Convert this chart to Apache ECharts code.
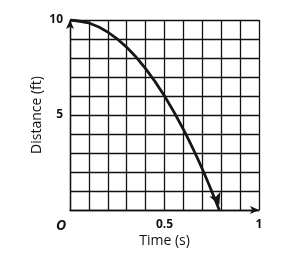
<!DOCTYPE html>
<html>
<head>
  <meta charset="utf-8">
  <title>Distance vs Time</title>
  <script src="https://cdn.jsdelivr.net/npm/echarts@6/dist/echarts.min.js"></script>
  <style>
    html, body { margin: 0; padding: 0; background: #fff; }
    #chart { width: 284px; height: 257px; }
  </style>
</head>
<body>
  <div id="chart"></div>
  <script>
    // values
    var timeS = [0, 0.1, 0.2, 0.3, 0.4, 0.5, 0.6, 0.7, 0.79];
    var distanceFt = [10, 9.84, 9.36, 8.56, 7.44, 6.0, 4.24, 2.16, 0];
    var xTickLabels = { '0.5': '0.5', '1': '1' };
    var yTickLabels = { '5': '5', '10': '10' };

    var font = '"Open Sans", "DejaVu Sans", sans-serif';
    var ink = '#111';

    var points = timeS.map(function (t, i) {
      var p = { value: [t, distanceFt[i]], symbol: 'none' };
      if (i === timeS.length - 1) {
        p.symbol = 'arrow';
        p.symbolSize = [9, 12];
        p.symbolRotate = 202;
        p.symbolOffset = [0, '-40%'];
      }
      return p;
    });

    var chart = echarts.init(document.getElementById('chart'));
    chart.setOption({
      animation: false,
      grid: { left: 70, top: 20, right: 25, bottom: 47 },
      xAxis: {
        type: 'value', min: 0, max: 1, interval: 0.1,
        name: 'Time (s)', nameLocation: 'middle', nameGap: 24, nameMoveOverlap: false,
        nameTextStyle: { fontFamily: font, fontSize: 14, color: ink },
        axisLine: { lineStyle: { color: ink, width: 1.3 }, symbol: ['none', 'arrow'], symbolSize: [6, 9] },
        axisTick: { show: false },
        splitLine: { lineStyle: { color: ink, width: 1.3 } },
        axisLabel: {
          margin: 9, fontFamily: font, fontSize: 12, fontWeight: 'bold', color: ink,
          formatter: function (v) {
            if (v === 0) return '{o|O}';
            var k = String(Math.round(v * 10) / 10);
            return xTickLabels[k] || '';
          },
          rich: {
            o: { fontFamily: font, fontSize: 14, fontStyle: 'italic', color: ink, padding: [0, 18, 6, 0] }
          }
        }
      },
      yAxis: {
        type: 'value', min: 0, max: 10, interval: 1,
        name: 'Distance (ft)', nameLocation: 'middle', nameGap: 26, nameRotate: 90, nameMoveOverlap: false,
        nameTextStyle: { fontFamily: font, fontSize: 14, color: ink },
        axisLine: { show: true, lineStyle: { color: ink, width: 1.3 }, symbol: ['none', 'arrow'], symbolSize: [6, 9] },
        axisTick: { show: false },
        splitLine: { lineStyle: { color: ink, width: 1.3 } },
        axisLabel: {
          margin: 7, fontFamily: font, fontSize: 12, fontWeight: 'bold', color: ink,
          formatter: function (v) { return yTickLabels[String(v)] || ''; }
        }
      },
      series: [{
        type: 'line',
        data: points,
        smooth: 0.3,
        showSymbol: true,
        itemStyle: { color: '#161616' },
        lineStyle: { color: '#161616', width: 2.8 }
      }]
    });
  </script>
</body>
</html>
